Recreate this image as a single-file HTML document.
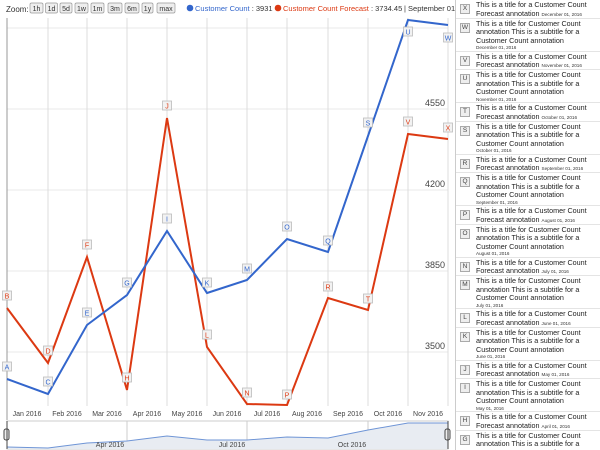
<!DOCTYPE html>
<html><head><meta charset="utf-8"><style>
body{margin:0;width:600px;height:450px;overflow:hidden;background:#fff;font-family:"Liberation Sans",Arial,sans-serif;position:relative}
#list{position:absolute;left:455px;top:0;width:145px;height:450px;overflow:hidden;border-left:1px solid #ccc}
.e{position:relative;box-sizing:border-box;overflow:hidden;border-bottom:1px solid #e4e4e4;padding:1px 1px 0 20px;font-size:7.2px;line-height:8.5px;color:#222;white-space:normal}
.f{height:18.5px}.c{height:33px}
.b{position:absolute;left:4px;top:4px;width:8px;height:8px;border:1px solid #aaa;background:#eee;font-size:6.5px;line-height:8px;text-align:center;color:#444}
.d{font-size:4.6px;color:#333}
.c .d{display:block;line-height:6.5px}
</style></head><body>
<svg width="455" height="450" style="position:absolute;left:0;top:0" font-family="Liberation Sans, Arial, sans-serif">
<text x="6" y="12" font-size="8" fill="#333">Zoom:</text>
<g font-size="7" fill="#333" text-anchor="middle">
<g fill="#eee" stroke="#999" stroke-width="0.7">
<rect x="30" y="3" width="13" height="10" rx="1.5"/><rect x="45.5" y="3" width="12" height="10" rx="1.5"/><rect x="60" y="3" width="12" height="10" rx="1.5"/><rect x="75" y="3" width="13" height="10" rx="1.5"/><rect x="91" y="3" width="13" height="10" rx="1.5"/><rect x="108" y="3" width="14" height="10" rx="1.5"/><rect x="125" y="3" width="14" height="10" rx="1.5"/><rect x="142" y="3" width="11" height="10" rx="1.5"/><rect x="157" y="3" width="18" height="10" rx="1.5"/></g>
<text x="36.5" y="11">1h</text><text x="51.5" y="11">1d</text><text x="66" y="11">5d</text><text x="81.5" y="11">1w</text><text x="97.5" y="11">1m</text><text x="115" y="11">3m</text><text x="132" y="11">6m</text><text x="147.5" y="11">1y</text><text x="166" y="11">max</text></g>
<circle cx="190" cy="8" r="3.3" fill="#3366cc"/><text x="195" y="11" font-size="7.5" fill="#3366cc">Customer Count<tspan fill="#333"> : 3931</tspan></text>
<circle cx="278" cy="8" r="3.3" fill="#dc3912"/><text x="283" y="11" font-size="7.5" fill="#dc3912">Customer Count Forecast<tspan fill="#333"> : 3734.45</tspan></text>
<text x="404" y="11" font-size="7.5" fill="#333">| September 01</text>
<g stroke="#e8e8e8" stroke-width="1"><line x1="7" x2="448" y1="28" y2="28"/><line x1="7" x2="448" y1="109" y2="109"/><line x1="7" x2="448" y1="190" y2="190"/><line x1="7" x2="448" y1="271" y2="271"/><line x1="7" x2="448" y1="352" y2="352"/></g>
<g stroke="#ddd" stroke-width="1"><line x1="48" x2="48" y1="18" y2="406"/><line x1="87" x2="87" y1="18" y2="406"/><line x1="127" x2="127" y1="18" y2="406"/><line x1="167" x2="167" y1="18" y2="406"/><line x1="207" x2="207" y1="18" y2="406"/><line x1="247" x2="247" y1="18" y2="406"/><line x1="287" x2="287" y1="18" y2="406"/><line x1="328" x2="328" y1="18" y2="406"/><line x1="368" x2="368" y1="18" y2="406"/><line x1="408" x2="408" y1="18" y2="406"/><line x1="448" x2="448" y1="18" y2="406"/></g>
<line x1="7" x2="7" y1="18" y2="420" stroke="#999"/>
<g font-size="9" fill="#444" text-anchor="end"><text x="445" y="106">4550</text><text x="445" y="187">4200</text><text x="445" y="268">3850</text><text x="445" y="349">3500</text></g>
<g font-size="7" fill="#444" text-anchor="middle"><text x="27" y="416">Jan 2016</text><text x="67" y="416">Feb 2016</text><text x="107" y="416">Mar 2016</text><text x="147" y="416">Apr 2016</text><text x="187" y="416">May 2016</text><text x="227" y="416">Jun 2016</text><text x="267" y="416">Jul 2016</text><text x="307" y="416">Aug 2016</text><text x="348" y="416">Sep 2016</text><text x="388" y="416">Oct 2016</text><text x="428" y="416">Nov 2016</text></g>
<polyline fill="none" stroke="#dc3912" stroke-width="2" points="7,308 48,363 87,257 127,390 167,118 207,347 247,404 287,405 328,298 368,310 408,134 448,139"/>
<polyline fill="none" stroke="#3366cc" stroke-width="2" points="7,379 48,394 87,325 127,295 167,231 207,293 247,280 287,239 328,252 368,136 408,20 448,25"/>
<g font-size="7" text-anchor="middle">
<g fill="#f2f2f2" stroke="#bbb" stroke-width="0.8">
<rect x="2.5" y="362" width="9" height="9"/><rect x="2.5" y="291" width="9" height="9"/><rect x="43.5" y="377" width="9" height="9"/><rect x="43.5" y="346" width="9" height="9"/><rect x="82.5" y="308" width="9" height="9"/><rect x="82.5" y="240" width="9" height="9"/><rect x="122.5" y="278" width="9" height="9"/><rect x="122.5" y="373" width="9" height="9"/><rect x="162.5" y="214" width="9" height="9"/><rect x="162.5" y="101" width="9" height="9"/><rect x="202.5" y="278" width="9" height="9"/><rect x="202.5" y="330" width="9" height="9"/><rect x="242.5" y="264" width="9" height="9"/><rect x="242.5" y="388" width="9" height="9"/><rect x="282.5" y="222" width="9" height="9"/><rect x="282.5" y="390" width="9" height="9"/><rect x="323.5" y="236" width="9" height="9"/><rect x="323.5" y="282" width="9" height="9"/><rect x="363.5" y="118" width="9" height="9"/><rect x="363.5" y="294" width="9" height="9"/><rect x="403.5" y="27" width="9" height="9"/><rect x="403.5" y="117" width="9" height="9"/><rect x="443.5" y="33" width="9" height="9"/><rect x="443.5" y="123" width="9" height="9"/></g>
<g fill="#3366cc"><text x="7" y="369.5">A</text><text x="48" y="384.5">C</text><text x="87" y="315.5">E</text><text x="127" y="285.5">G</text><text x="167" y="221.5">I</text><text x="207" y="285.5">K</text><text x="247" y="271.5">M</text><text x="287" y="229.5">O</text><text x="328" y="243.5">Q</text><text x="368" y="125.5">S</text><text x="408" y="34.5">U</text><text x="448" y="40.5">W</text></g>
<g fill="#dc3912"><text x="7" y="298.5">B</text><text x="48" y="353.5">D</text><text x="87" y="247.5">F</text><text x="127" y="380.5">H</text><text x="167" y="108.5">J</text><text x="207" y="337.5">L</text><text x="247" y="395.5">N</text><text x="287" y="397.5">P</text><text x="328" y="289.5">R</text><text x="368" y="301.5">T</text><text x="408" y="124.5">V</text><text x="448" y="130.5">X</text></g></g>
<rect x="7" y="421" width="441" height="28" fill="#fff" stroke="#ccc"/>
<g stroke="#ccc"><line x1="127" x2="127" y1="421" y2="449"/><line x1="247" x2="247" y1="421" y2="449"/><line x1="368" x2="368" y1="421" y2="449"/></g>
<polygon fill="#e8ecf2" points="7,447 48,448 87,443 127,441 167,436 207,440 247,440 287,437 328,438 368,430 408,423 448,423 448,449 7,449"/>
<polyline fill="none" stroke="#6f95d6" stroke-width="1" points="7,447 48,448 87,443 127,441 167,436 207,440 247,440 287,437 328,438 368,430 408,423 448,423"/>
<g font-size="7" fill="#444" text-anchor="middle"><text x="110" y="447">Apr 2016</text><text x="232" y="447">Jul 2016</text><text x="352" y="447">Oct 2016</text></g>
<g fill="#eee" stroke="#444"><rect x="4" y="429" width="5" height="11" rx="2"/><rect x="445" y="429" width="5" height="11" rx="2"/></g>
<line x1="7" x2="7" y1="421" y2="449" stroke="#444"/><line x1="448" x2="448" y1="421" y2="449" stroke="#444"/>
</svg>
<div id="list">
<div class="e f"><span class="b">X</span>This is a title for a Customer Count Forecast annotation <span class="d">December 01, 2016</span></div>
<div class="e c"><span class="b">W</span>This is a title for Customer Count annotation This is a subtitle for a Customer Count annotation<span class="d">December 01, 2016</span></div>
<div class="e f"><span class="b">V</span>This is a title for a Customer Count Forecast annotation <span class="d">November 01, 2016</span></div>
<div class="e c"><span class="b">U</span>This is a title for Customer Count annotation This is a subtitle for a Customer Count annotation<span class="d">November 01, 2016</span></div>
<div class="e f"><span class="b">T</span>This is a title for a Customer Count Forecast annotation <span class="d">October 01, 2016</span></div>
<div class="e c"><span class="b">S</span>This is a title for Customer Count annotation This is a subtitle for a Customer Count annotation<span class="d">October 01, 2016</span></div>
<div class="e f"><span class="b">R</span>This is a title for a Customer Count Forecast annotation <span class="d">September 01, 2016</span></div>
<div class="e c"><span class="b">Q</span>This is a title for Customer Count annotation This is a subtitle for a Customer Count annotation<span class="d">September 01, 2016</span></div>
<div class="e f"><span class="b">P</span>This is a title for a Customer Count Forecast annotation <span class="d">August 01, 2016</span></div>
<div class="e c"><span class="b">O</span>This is a title for Customer Count annotation This is a subtitle for a Customer Count annotation<span class="d">August 01, 2016</span></div>
<div class="e f"><span class="b">N</span>This is a title for a Customer Count Forecast annotation <span class="d">July 01, 2016</span></div>
<div class="e c"><span class="b">M</span>This is a title for Customer Count annotation This is a subtitle for a Customer Count annotation<span class="d">July 01, 2016</span></div>
<div class="e f"><span class="b">L</span>This is a title for a Customer Count Forecast annotation <span class="d">June 01, 2016</span></div>
<div class="e c"><span class="b">K</span>This is a title for Customer Count annotation This is a subtitle for a Customer Count annotation<span class="d">June 01, 2016</span></div>
<div class="e f"><span class="b">J</span>This is a title for a Customer Count Forecast annotation <span class="d">May 01, 2016</span></div>
<div class="e c"><span class="b">I</span>This is a title for Customer Count annotation This is a subtitle for a Customer Count annotation<span class="d">May 01, 2016</span></div>
<div class="e f"><span class="b">H</span>This is a title for a Customer Count Forecast annotation <span class="d">April 01, 2016</span></div>
<div class="e c"><span class="b">G</span>This is a title for Customer Count annotation This is a subtitle for a Customer Count annotation<span class="d">April 01, 2016</span></div>
</div>
</body></html>
